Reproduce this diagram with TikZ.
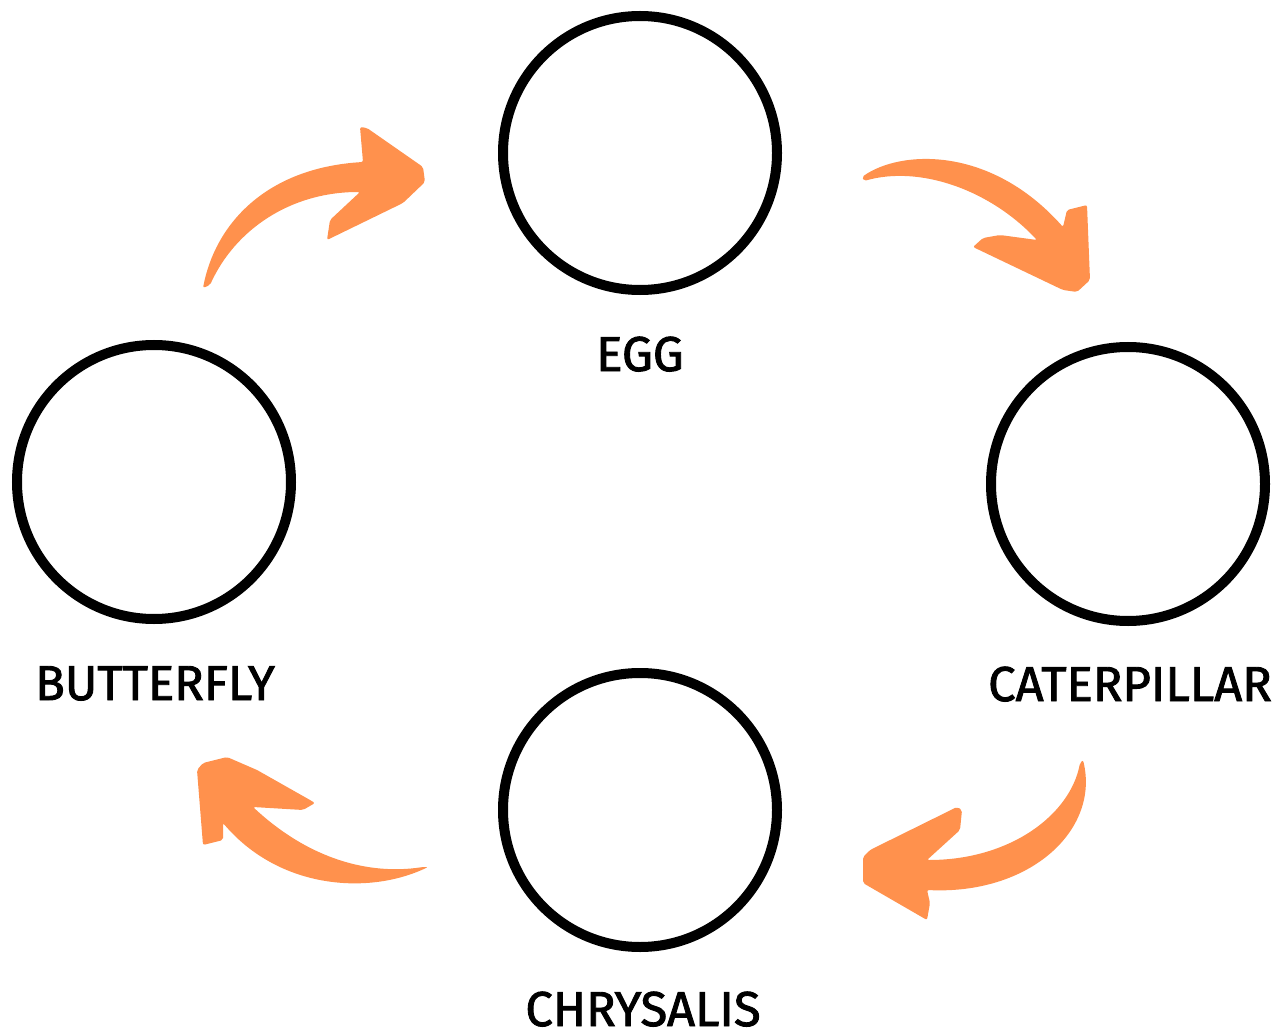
\documentclass[tikz,border=0pt]{standalone}
\usepackage{fontspec}
\setmainfont{Fira Sans}[FakeBold=1.8]
\definecolor{arrowc}{HTML}{FF914D}
\begin{document}
\begin{tikzpicture}[x=1pt,y=-1pt,
  stage/.style={circle,draw=black,line width=10pt,minimum size=274pt,inner sep=0pt},
  lbl/.style={font=\fontsize{49}{49}\selectfont,inner sep=0pt,anchor=base},
  cyc/.style={fill=arrowc,rounded corners=2pt}]
\useasboundingbox (0,0) rectangle (1286,1035);
\fill[white] (0,0) rectangle (1286,1035);
\node[stage] (egg) at (640,153) {};
\node[stage] (cat) at (1128,484) {};
\node[stage] (chr) at (640,810) {};
\node[stage] (but) at (154,482) {};
\node[lbl] (tegg) at (640,371) {EGG};
\node[lbl] (tcat) at (1130,701) {CATERPILLAR};
\node[lbl] (tbut) at (155,700) {BUTTERFLY};
\node[lbl] (tchr) at (643,1026) {CHRYSALIS};
% arrow butterfly -> egg
\fill[cyc] (203,288) .. controls (215,225) and (265,168) .. (363,162)
  -- (360,127) -- (367,128) -- (423,167) -- (425,182) -- (403,203) -- (327,240)
  -- (330,220) -- (360,192) .. controls (290,192) and (235,230) .. (210,285) -- cycle;
% arrow egg -> caterpillar
\fill[cyc] (862,177) .. controls (900,150) and (990,145) .. (1063,227)
  -- (1067,210) -- (1087,205) -- (1090,280) -- (1077,292) -- (1063,290) -- (973,247)
  -- (983,238) -- (1000,235) -- (1037,240) .. controls (990,190) and (920,165) .. (864,181) -- cycle;
% arrow caterpillar -> chrysalis
\fill[cyc] (1083,760) .. controls (1100,830) and (1030,895) .. (927,890)
  -- (930,903) -- (927,920) -- (863,883) -- (863,857) -- (870,850) -- (957,807)
  -- (962,810) -- (960,830) -- (927,860) .. controls (1010,860) and (1070,815) .. (1080,763) -- cycle;
% arrow chrysalis -> butterfly
\fill[cyc] (428,867) .. controls (370,895) and (280,890) .. (223,823)
  -- (223,840) -- (203,845) -- (197,770) -- (203,763) -- (227,757) -- (257,770)
  -- (310,800) -- (315,803) -- (303,810) -- (253,807) .. controls (310,860) and (370,875) .. (423,867) -- cycle;
\end{tikzpicture}
\end{document}
